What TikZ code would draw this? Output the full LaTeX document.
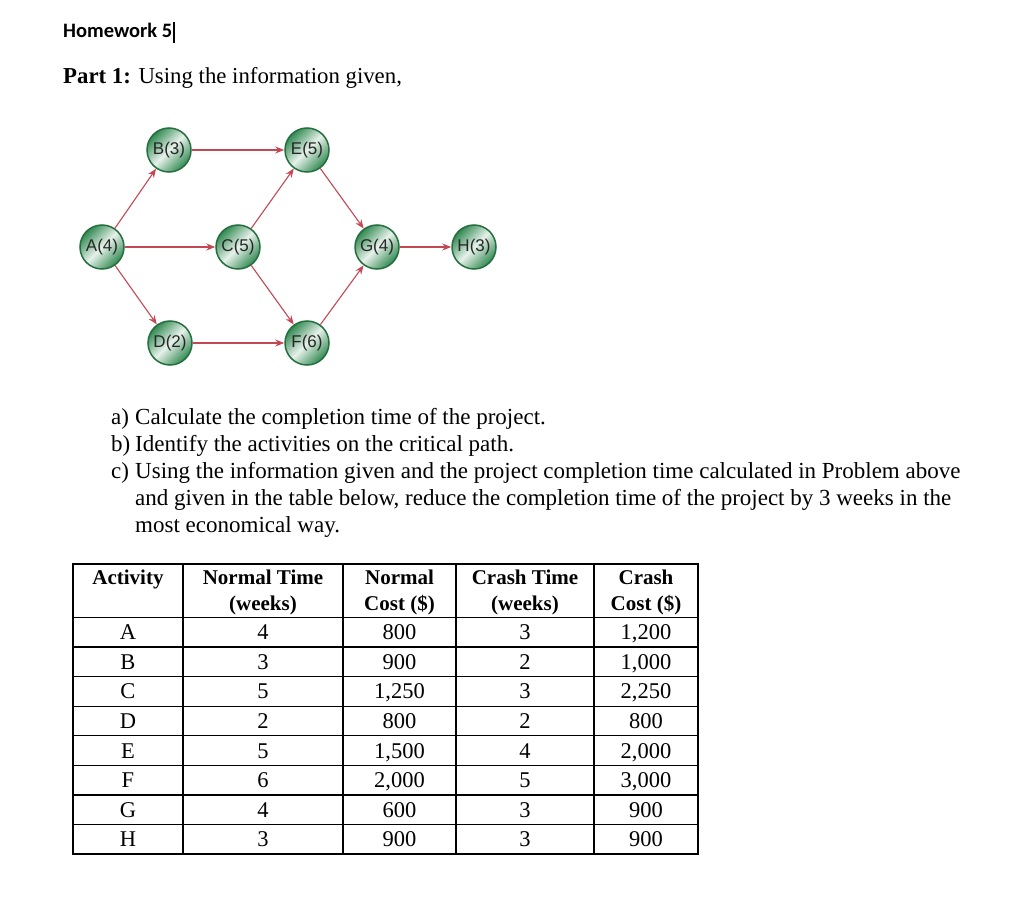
\documentclass[tikz,border=0pt]{standalone}
\usepackage{fontspec}
\setmainfont{Liberation Serif}
\newfontfamily\nodefont{Liberation Sans}
\newfontfamily\titlefont{Carlito}
\usetikzlibrary{arrows.meta, positioning, calc}
\definecolor{ballgreen}{RGB}{50,138,82}
\definecolor{balledge}{RGB}{36,110,64}
\definecolor{arrowred}{RGB}{196,72,84}
\tikzset{
  act_node/.style={circle, draw=balledge, line width=1.5pt, minimum size=44pt, inner sep=0pt, left color=ballgreen, right color=ballgreen, middle color=white!88!ballgreen, shading angle=45, font=\nodefont\fontsize{17}{17}\selectfont, text=black!85},
  flow_arrow/.style={-{Stealth[length=9pt, width=7pt]}, line width=1.1pt, arrowred},
  body_text/.style={anchor=base west, inner sep=0pt, font=\fontsize{23}{27}\selectfont},
  cell_text/.style={anchor=base, inner sep=0pt, font=\fontsize{22.5}{26}\selectfont},
  head_text/.style={anchor=base, inner sep=0pt, font=\bfseries\fontsize{21}{26}\selectfont},
  grid_line/.style={line width=1.3pt, black}
}

\begin{document}
\begin{tikzpicture}[x=1pt, y=-1pt]
  \useasboundingbox (0,0) rectangle (1024,901);

  % --- 1. Heading ---
  \node[anchor=base west, inner sep=0pt, font=\titlefont\bfseries\fontsize{20.5}{20}\selectfont] (title) at (63,38) {Homework 5\kern1pt\rule[-5pt]{1.2pt}{21pt}};
  \node[anchor=base west, inner sep=0pt, font=\fontsize{22.8}{27}\selectfont] (part) at (63,84) {\textbf{Part 1:} Using the information given,};

  % --- 2. Activity network ---
  \node[act_node] (A) at (102,247) {A(4)};
  \node[act_node] (B) at (169,150) {B(3)};
  \node[act_node] (C) at (238,247) {C(5)};
  \node[act_node] (D) at (170,343) {D(2)};
  \node[act_node] (E) at (307,150) {E(5)};
  \node[act_node] (F) at (307,343) {F(6)};
  \node[act_node] (G) at (377,247) {G(4)};
  \node[act_node] (H) at (474,247) {H(3)};

  \draw[flow_arrow] (A) -- (B);
  \draw[flow_arrow] (A) -- (C);
  \draw[flow_arrow] (A) -- (D);
  \draw[flow_arrow] (B) -- (E);
  \draw[flow_arrow] (C) -- (E);
  \draw[flow_arrow] (C) -- (F);
  \draw[flow_arrow] (D) -- (F);
  \draw[flow_arrow] (E) -- (G);
  \draw[flow_arrow] (F) -- (G);
  \draw[flow_arrow] (G) -- (H);

  % --- 3. Questions ---
  \node[body_text] (qa_lab) at (111,424) {a)};
  \node[body_text] (qa) at (135,424) {Calculate the completion time of the project.};
  \node[body_text] (qb_lab) at (111,451) {b)};
  \node[body_text] (qb) at (135,451) {Identify the activities on the critical path.};
  \node[body_text] (qc_lab) at (111,478) {c)};
  \node[body_text] (qc) at (135,478) {Using the information given and the project completion time calculated in Problem above};
  \node[body_text] (qc2) at (135,505) {and given in the table below, reduce the completion time of the project by 3 weeks in the};
  \node[body_text] (qc3) at (135,532) {most economical way.};

  % --- 4. Table ---
  \draw[grid_line] (73,564) rectangle (698,854);
  \foreach \cx in {183,343,456,594}
    \draw[grid_line] (\cx,564) -- (\cx,854);
  \foreach \j in {0,...,7}
    \draw[grid_line] (73,{617.5+29.56*\j}) -- (698,{617.5+29.56*\j});

  % header
  \node[head_text] (h_act) at (128,584) {Activity};
  \node[head_text] (h_nt1) at (263,584) {Normal Time};
  \node[head_text] (h_nt2) at (263,610) {(weeks)};
  \node[head_text] (h_nc1) at (399.5,584) {Normal};
  \node[head_text] (h_nc2) at (399.5,610) {Cost (\$)};
  \node[head_text] (h_ct1) at (525,584) {Crash Time};
  \node[head_text] (h_ct2) at (525,610) {(weeks)};
  \node[head_text] (h_cc1) at (646,584) {Crash};
  \node[head_text] (h_cc2) at (646,610) {Cost (\$)};

  % rows
  \foreach \act/\nt/\nc/\ct/\cc [count=\i] in {
      {A/4/800/3/1,200}, {B/3/900/2/1,000}, {C/5/1,250/3/2,250}, {D/2/800/2/800},
      {E/5/1,500/4/2,000}, {F/6/2,000/5/3,000}, {G/4/600/3/900}, {H/3/900/3/900}} {
    \pgfmathsetmacro{\ry}{617.5+29.56*(\i-0.5)+7.5}
    \node[cell_text] (act_\i) at (128,\ry) {\act};
    \node[cell_text] (nt_\i) at (263,\ry) {\nt};
    \node[cell_text] (nc_\i) at (399.5,\ry) {\nc};
    \node[cell_text] (ct_\i) at (525,\ry) {\ct};
    \node[cell_text] (cc_\i) at (646,\ry) {\cc};
  }
\end{tikzpicture}
\end{document}
